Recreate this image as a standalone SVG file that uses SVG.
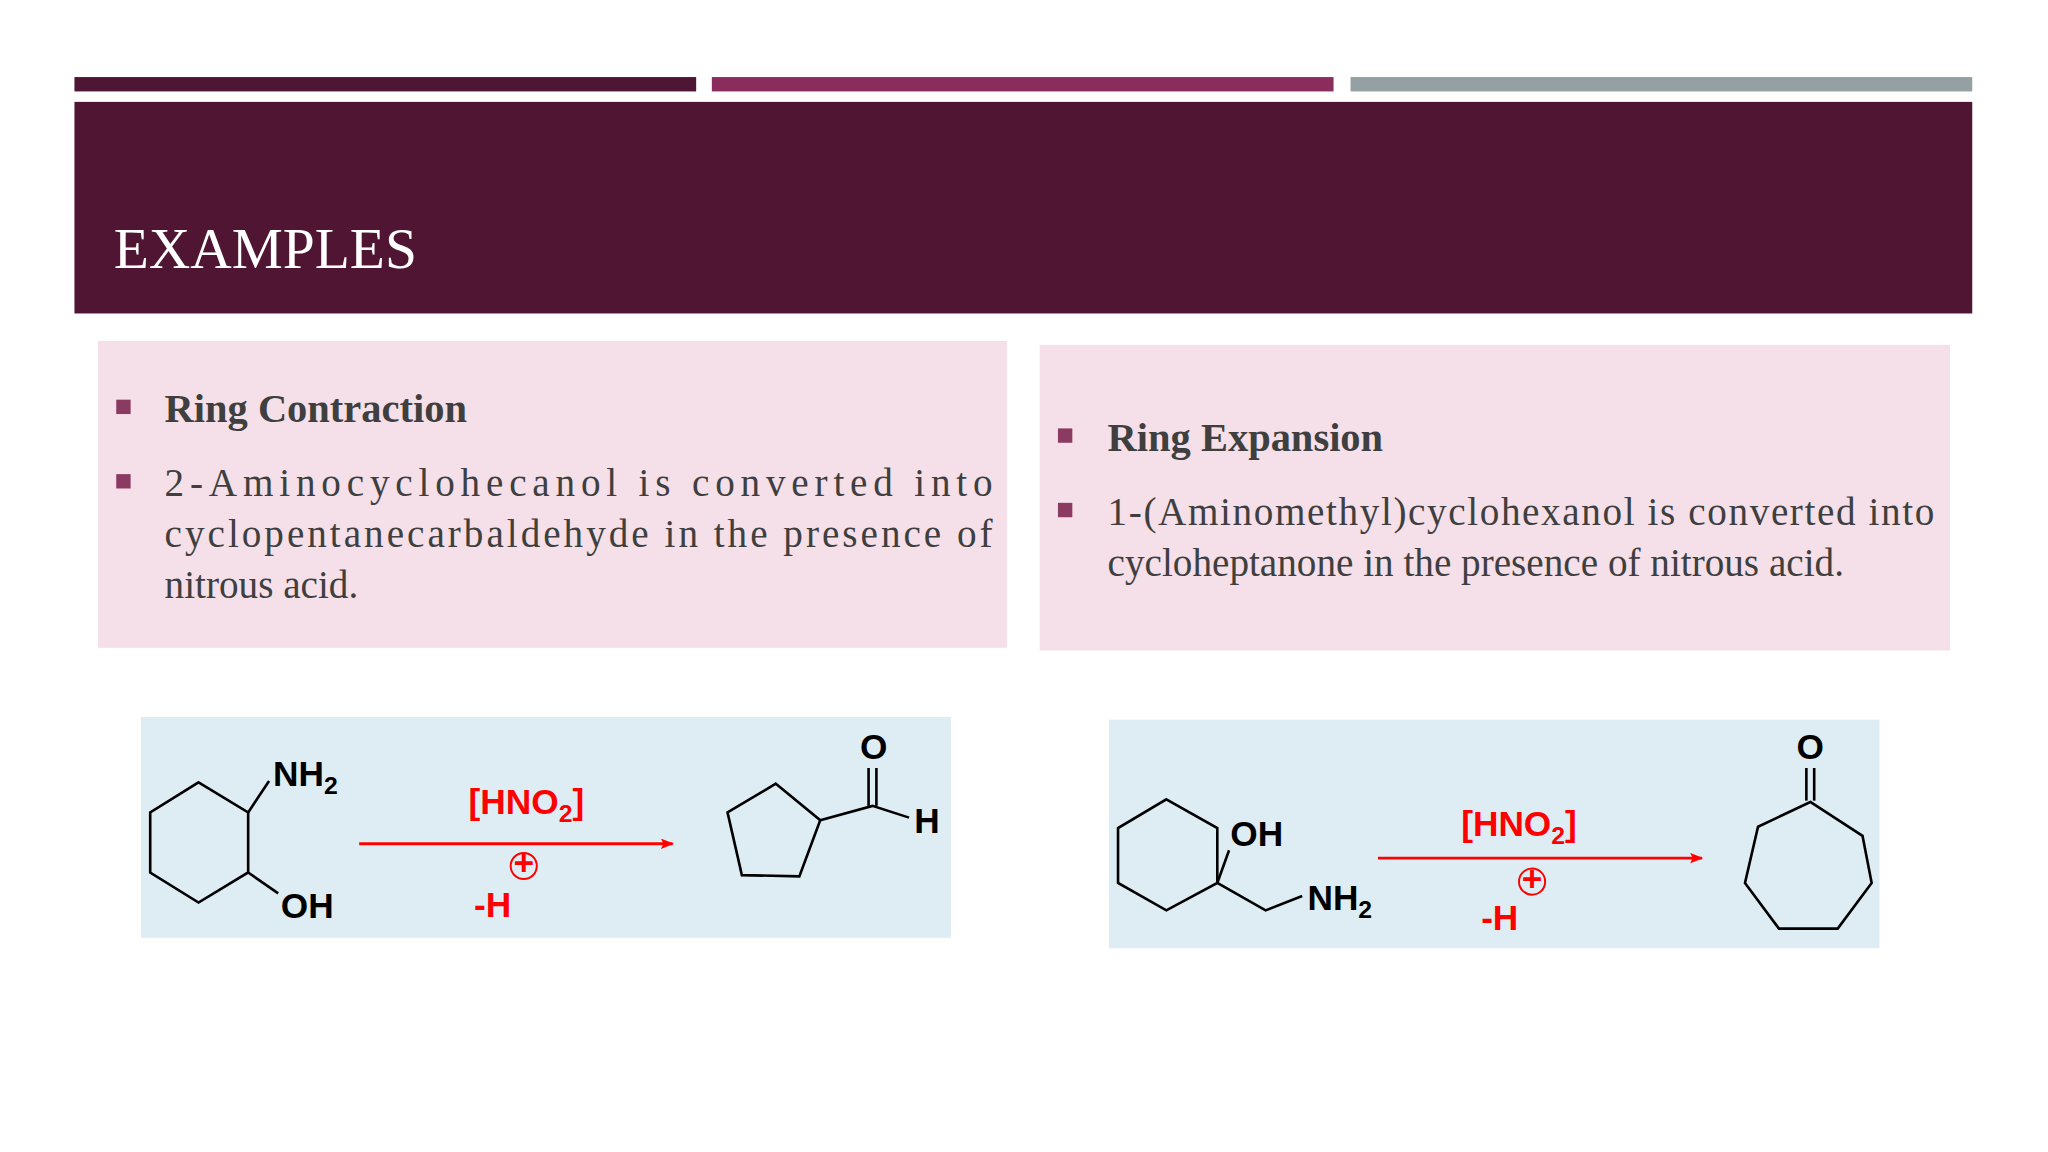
<svg xmlns="http://www.w3.org/2000/svg" width="2048" height="1152" viewBox="0 0 2048 1152">
<style>
.body{font-family:"Liberation Serif","Times New Roman",serif;font-size:30px;fill:#3f3f3f}
.head{font-family:"Liberation Serif","Times New Roman",serif;font-size:31px;font-weight:bold;fill:#3f3f3f}
.bond{stroke:#000;stroke-width:2;fill:none;stroke-linejoin:miter}
.atom{font-family:"Liberation Sans",Arial,sans-serif;font-weight:bold;font-size:27px;fill:#000}
.red{font-family:"Liberation Sans",Arial,sans-serif;font-weight:bold;font-size:27px;fill:#f00}
.bul{fill:#8b3a62}
</style>
<defs><marker id="ah" markerWidth="10" markerHeight="8" refX="9" refY="4" orient="auto" markerUnits="userSpaceOnUse" viewBox="0 0 10 8"><path d="M0,0 L10,4 L0,8 L2,4 Z" fill="#f00"/></marker></defs>
<rect width="2048" height="1152" fill="#fff"/>
<g transform="scale(1.30612)">
<g id="topbars">
<rect x="57" y="59" width="476" height="11" fill="#4f1535"/>
<rect x="545" y="59" width="476" height="11" fill="#8b2d5c"/>
<rect x="1034" y="59" width="476" height="11" fill="#95a0a3"/>
</g>
<g id="header">
<rect x="57" y="78" width="1453" height="162" fill="#501533"/>
<text x="87" y="205" font-family="Liberation Serif,serif" font-size="44" fill="#fff">EXAMPLES</text>
</g>
<g id="left-text">
<rect x="75" y="261" width="696" height="235" fill="#f5dfe8"/>
<rect class="bul" x="89" y="306" width="11" height="11"/>
<text class="head" x="126" y="323">Ring Contraction</text>
<rect class="bul" x="89" y="363" width="11" height="11"/>
<text class="body" x="126" y="380" textLength="634" lengthAdjust="spacing">2-Aminocyclohecanol  is  converted  into</text>
<text class="body" x="126" y="419" textLength="634" lengthAdjust="spacing">cyclopentanecarbaldehyde in the presence of</text>
<text class="body" x="126" y="458">nitrous acid.</text>
</g>
<g id="right-text">
<rect x="796" y="264" width="697" height="234" fill="#f5dfe8"/>
<rect class="bul" x="810" y="328" width="11" height="11"/>
<text class="head" x="848" y="345">Ring Expansion</text>
<rect class="bul" x="810" y="385" width="11" height="11"/>
<text class="body" x="848" y="402" textLength="633" lengthAdjust="spacing">1-(Aminomethyl)cyclohexanol is converted into</text>
<text class="body" x="848" y="441">cycloheptanone in the presence of nitrous acid.</text>
</g>
<g id="reaction1">
<rect x="108" y="549" width="620" height="169" fill="#deedf4"/>
<polygon class="bond" points="152,599 190,622 190,668 152,691 115,668 115,622"/>
<line class="bond" x1="190" y1="622" x2="206" y2="598"/>
<line class="bond" x1="190" y1="668" x2="213" y2="684"/>
<text class="atom" x="209" y="602">NH<tspan font-size="19" dy="6">2</tspan></text>
<text class="atom" x="215" y="703">OH</text>
<polygon class="bond" points="594,600 628,628 612,671 568,670 557,622"/>
<polyline class="bond" points="628,628 668,617 696,626"/>
<line class="bond" x1="665" y1="617" x2="665" y2="588"/>
<line class="bond" x1="671" y1="617" x2="671" y2="588"/>
<text class="atom" x="669" y="581" text-anchor="middle">O</text>
<text class="atom" x="700" y="638">H</text>
</g>
<g id="reaction2">
<rect x="849" y="551" width="590" height="175" fill="#deedf4"/>
<polygon class="bond" points="893,612 932,634 932,676 893,697 856,676 856,634"/>
<line class="bond" x1="932" y1="676" x2="941" y2="651"/>
<polyline class="bond" points="932,676 969,697 997,686"/>
<text class="atom" x="942" y="648">OH</text>
<text class="atom" x="1001" y="697">NH<tspan font-size="19" dy="6">2</tspan></text>
<polygon class="bond" points="1386,614 1426,640 1433,676 1407,711 1362,711 1336,676 1346,633"/>
<line class="bond" x1="1383" y1="613" x2="1383" y2="588"/>
<line class="bond" x1="1389" y1="613" x2="1389" y2="588"/>
<text class="atom" x="1386" y="581" text-anchor="middle">O</text>
</g>
<g id="connectors">
<line x1="275" y1="646" x2="515" y2="646" stroke="#f00" stroke-width="2.2" marker-end="url(#ah)"/>
<text class="red" x="403" y="623" text-anchor="middle">[HNO<tspan font-size="19" dy="6">2</tspan><tspan dy="-6">]</tspan></text>
<circle cx="401" cy="663" r="10" fill="none" stroke="#f00" stroke-width="1.5"/>
<text class="red" x="401" y="670" text-anchor="middle" font-size="18" font-weight="normal">+</text>
<text class="red" x="363" y="702">-H</text>
<line x1="1055" y1="657" x2="1303" y2="657" stroke="#f00" stroke-width="2.2" marker-end="url(#ah)"/>
<text class="red" x="1163" y="640" text-anchor="middle">[HNO<tspan font-size="19" dy="6">2</tspan><tspan dy="-6">]</tspan></text>
<circle cx="1173" cy="675" r="10" fill="none" stroke="#f00" stroke-width="1.5"/>
<text class="red" x="1173" y="682" text-anchor="middle" font-size="18" font-weight="normal">+</text>
<text class="red" x="1134" y="712">-H</text>
</g>
</g>
</svg>
